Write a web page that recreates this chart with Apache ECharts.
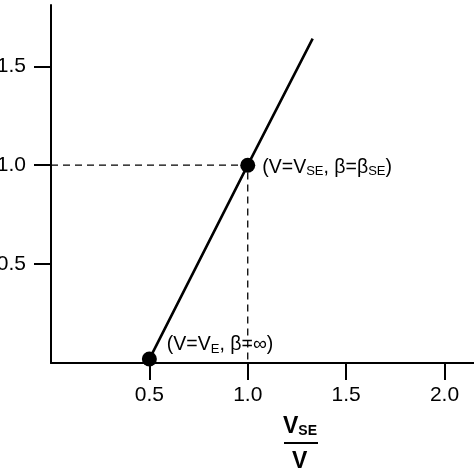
<!DOCTYPE html>
<html><head><meta charset="utf-8">
<script src="https://cdn.jsdelivr.net/npm/echarts@6/dist/echarts.min.js"></script>
<style>html,body{margin:0;padding:0;background:#fff}#c{width:474px;height:474px}</style>
</head><body><div id="c"></div>
<script>
const lineX = [0.5, 1.0, 1.33];
const lineY = [0.02, 1.0, 1.64];
const pointX = [0.5, 1.0];
const pointY = [0.02, 1.0];
const pointLabels = ['{a|(V=V}{s|E}{a|, β=∞)}', '{a|(V=V}{s|SE}{a|, β=β}{s|SE}{a|)}'];
const guideX = [0, 1.0, 1.0];
const guideY = [1.0, 1.0, 0];
const xTicks = [0.5, 1.0, 1.5, 2.0];
const yTicks = [0.5, 1.0, 1.5];

const FONT = '"Liberation Sans", Arial, Helvetica, sans-serif';
const chart = echarts.init(document.getElementById('c'), null, {renderer: 'canvas'});
const labelRich = {
  a: {fontSize: 19.5, fontFamily: FONT, color: '#000', lineHeight: 22, verticalAlign: 'middle'},
  s: {fontSize: 13, fontFamily: FONT, color: '#000', verticalAlign: 'bottom', lineHeight: 12, padding: [0, 0, 0, 0]}
};
const pointOffsets = [[0, -14], [0, 2]];
const pointDistances = [10, 7];
const option = {
  backgroundColor: '#fff',
  animation: false,
  grid: {left: 51, right: 0, top: 5, bottom: 111, containLabel: false, outerBoundsMode: 'none'},
  xAxis: {
    type: 'value', min: 0, max: 2.15,
    axisLine: {show: true, lineStyle: {color: '#000', width: 2}},
    axisTick: {show: true, length: 17, lineStyle: {color: '#000', width: 2}, customValues: xTicks},
    axisLabel: {show: true, customValues: xTicks, margin: 22, color: '#000', fontSize: 21, fontFamily: FONT,
      formatter: v => v.toFixed(1)},
    splitLine: {show: false}
  },
  yAxis: {
    type: 'value', min: 0, max: 1.81,
    axisLine: {show: true, lineStyle: {color: '#000', width: 2}},
    axisTick: {show: true, length: 17, lineStyle: {color: '#000', width: 2}, customValues: yTicks},
    axisLabel: {show: true, customValues: yTicks, margin: 25, color: '#000', fontSize: 21, fontFamily: FONT,
      formatter: v => v.toFixed(1)},
    splitLine: {show: false}
  },
  series: [
    {
      type: 'line', data: guideX.map((x, i) => [x, guideY[i]]), symbol: 'none',
      lineStyle: {color: '#000', width: 1.3, type: [7, 5]}, z: 1
    },
    {
      type: 'line', data: lineX.map((x, i) => [x, lineY[i]]), symbol: 'none',
      lineStyle: {color: '#000', width: 2.6}, z: 2
    },
    {
      type: 'scatter', symbolSize: 15, itemStyle: {color: '#000', opacity: 1}, z: 3,
      data: pointX.map((x, i) => ({
        value: [x, pointY[i]],
        label: {
          show: true, position: 'right', distance: pointDistances[i], offset: pointOffsets[i],
          formatter: pointLabels[i], color: '#000', fontSize: 19.5, fontFamily: FONT,
          rich: labelRich
        }
      }))
    }
  ],
  graphic: [
    {type: 'text', left: 283, top: 415, style: {
      text: '{v|V}{s|SE}', rich: {
        v: {fontSize: 23, fontWeight: 'bold', fontFamily: FONT, fill: '#000', lineHeight: 24, verticalAlign: 'bottom'},
        s: {fontSize: 14, fontWeight: 'bold', fontFamily: FONT, fill: '#000', lineHeight: 14, verticalAlign: 'bottom'}
      }}},
    {type: 'line', shape: {x1: 284, y1: 443, x2: 318, y2: 443}, style: {stroke: '#000', lineWidth: 2}},
    {type: 'text', left: 292, top: 450, style: {text: 'V', fontSize: 23, fontWeight: 'bold', fontFamily: FONT, fill: '#000'}}
  ]
};
chart.setOption(option);
</script>
</body></html>
